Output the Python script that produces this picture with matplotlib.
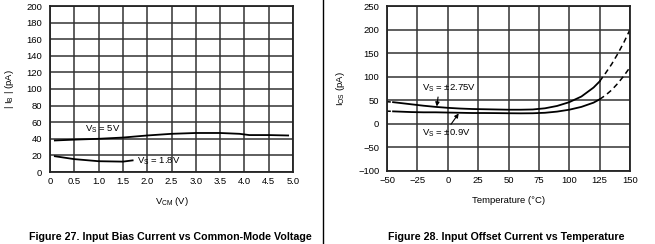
import numpy as np
import matplotlib
matplotlib.use("Agg")
import matplotlib.pyplot as plt
from matplotlib.lines import Line2D

plt.rcParams['font.family'] = ['Liberation Sans', 'DejaVu Sans']
plt.rcParams['mathtext.fontset'] = 'custom'
plt.rcParams['mathtext.rm'] = 'Liberation Sans'

# Figure 27: input bias current vs common-mode voltage
vcm_5v = [0.1, 0.5, 1.0, 1.5, 2.0, 2.5, 3.0, 3.5, 3.9, 4.1, 4.5, 4.9]
ib_5v = [38, 39, 40, 41.5, 44, 46, 47, 47, 46, 44.5, 44.5, 44]
vcm_18v = [0.1, 0.5, 1.0, 1.5, 1.7]
ib_18v = [19, 15.5, 13, 12.5, 14]

# Figure 28: input offset current vs temperature
temp = [-50, -45, -40, -30, -20, -10, 0, 10, 20, 30, 40, 50, 60, 70, 80, 90,
        100, 110, 120, 125, 130, 135, 140, 145, 150]
ios_275 = [47, 46, 44.5, 41.5, 38.5, 36, 34, 32.5, 31.5, 31, 30.5, 30, 30, 30.5,
           33, 38, 46, 58, 77, 90, 108, 127, 149, 173, 200]
ios_09 = [27, 26.5, 26, 25, 24.5, 24.5, 24, 23.5, 23, 23, 22.8, 22.5, 22.3, 22.5,
          23.5, 26, 30, 36, 45, 52, 61, 72, 86, 102, 120]

fig = plt.figure(figsize=(6.55, 2.44), dpi=100)
ax1 = fig.add_axes([50/655, 1-172/244, 243/655, 166/244])
ax2 = fig.add_axes([387/655, 1-171/244, 243/655, 165/244])

def style(ax):
    ax.grid(True, color='#333333', lw=1.1)
    ax.set_axisbelow(True)
    for s in ax.spines.values():
        s.set_linewidth(1.3)
        s.set_color('#222222')
    ax.tick_params(length=0, labelsize=6.8, pad=3.5)
    ax.tick_params(axis='y', pad=5.5)

# left chart
ax1.plot(vcm_5v, ib_5v, color='black', lw=1.3)
ax1.plot(vcm_18v, ib_18v, color='black', lw=1.3)
ax1.set_xlim(0, 5)
ax1.set_ylim(0, 200)
ax1.set_xticks(np.arange(0, 5.01, 0.5))
ax1.set_xticklabels(['0'] + ['%.1f' % v for v in np.arange(0.5, 5.01, 0.5)])
ax1.set_yticks(np.arange(0, 201, 20))
style(ax1)
ax1.set_xlabel(r'V$_{\mathrm{CM}}$ (V)', fontsize=6.8)
ax1.xaxis.set_label_coords(0.5, -0.14)
ax1.set_ylabel(r'| I$_{\mathrm{B}}$ | (pA)', fontsize=6.8)
ax1.yaxis.set_label_coords(-0.14, 0.5)
ax1.text(0.71, 52, r'V$_{\mathrm{S}}$ = 5V', fontsize=6.8, va='center')
ax1.text(1.78, 13, r'V$_{\mathrm{S}}$ = 1.8V', fontsize=6.8, va='center')

# right chart
t = np.array(temp)
for ys in (ios_275, ios_09):
    y = np.array(ys)
    mid = (t >= -45) & (t <= 125)
    ax2.plot(t[mid], y[mid], color='black', lw=1.3)
    hi = t >= 125
    ax2.plot(t[hi], y[hi], color='black', lw=1.1, linestyle=(0, (3.5, 2.5)))
    lo = t <= -45
    ax2.plot(t[lo], y[lo], color='black', lw=1.1, linestyle=(0, (2.5, 3)))
ax2.set_xlim(-50, 150)
ax2.set_ylim(-100, 250)
ax2.set_xticks(np.arange(-50, 151, 25))
ax2.set_yticks(np.arange(-100, 251, 50))
style(ax2)
ax2.set_xlabel('Temperature (°C)', fontsize=6.8)
ax2.xaxis.set_label_coords(0.5, -0.15)
ax2.set_ylabel(r'I$_{\mathrm{OS}}$ (pA)', fontsize=6.8)
ax2.yaxis.set_label_coords(-0.165, 0.5)
ax2.annotate(r'V$_{\mathrm{S}}$ = ±2.75V', xy=(-9, 37), xytext=(-21, 75),
             fontsize=6.8, va='center',
             arrowprops=dict(arrowstyle='-|>', color='black', lw=0.8,
                             mutation_scale=6, shrinkA=0, shrinkB=0,
                             relpos=(0.3, 0)))
ax2.annotate(r'V$_{\mathrm{S}}$ = ±0.9V', xy=(9, 22), xytext=(-21, -19),
             fontsize=6.8, va='center',
             arrowprops=dict(arrowstyle='-|>', color='black', lw=0.8,
                             mutation_scale=6, shrinkA=0, shrinkB=0,
                             relpos=(0.55, 1)))

fig.text(170/655, 1-237/244, 'Figure 27. Input Bias Current vs Common-Mode Voltage',
         fontsize=7.7, fontweight='bold', ha='center', va='center')
fig.text(506/655, 1-237/244, 'Figure 28. Input Offset Current vs Temperature',
         fontsize=7.7, fontweight='bold', ha='center', va='center')
fig.add_artist(Line2D([323/655, 323/655], [0, 1], color='black', lw=1.0))

fig.savefig('out.png', dpi=100)
